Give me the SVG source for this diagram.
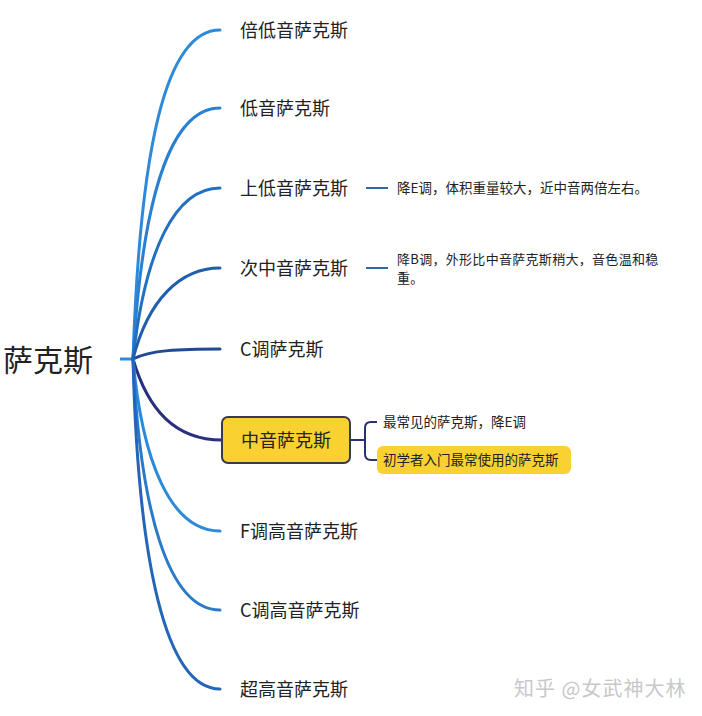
<svg xmlns="http://www.w3.org/2000/svg" width="702" height="716" viewBox="0 0 702 716">
<style>
text{font-family:"Noto Sans CJK SC","Noto Sans",sans-serif;fill:#222}
.lbl{font-size:18px;dominant-baseline:central}
.note{font-size:13.5px;dominant-baseline:central}
.note2{font-size:13px;letter-spacing:0.3px;dominant-baseline:central}
.br{fill:none;stroke-width:3;stroke-linecap:round}
</style>
<rect width="702" height="716" fill="#fff"/>
<g id="connectors">
<line x1="120" y1="359" x2="133" y2="359" stroke="#2d8ad8" stroke-width="3"/>
<path class="br" stroke="#2d8ad8" d="M133,359 C140,150 165,30 220,30"/>
<path class="br" stroke="#2a80d0" d="M133,359 C142,200 170,108 220,108"/>
<path class="br" stroke="#2470c0" d="M133,359 C145,250 175,188 220,188"/>
<path class="br" stroke="#1f5fae" d="M133,359 C148,300 180,268 220,268"/>
<path class="br" stroke="#1f4a96" d="M133,359 C150,350 180,349 220,349"/>
<path class="br" stroke="#2a2f7e" d="M133,359 C148,410 175,440 222,440"/>
<path class="br" stroke="#2d8ad8" d="M133,359 C142,460 170,531 220,531"/>
<path class="br" stroke="#2a7ac8" d="M133,359 C140,510 168,610 220,610"/>
<path class="br" stroke="#2365b8" d="M133,359 C138,560 165,689 220,689"/>
<line x1="366" y1="188" x2="388" y2="188" stroke="#2a6aa8" stroke-width="2"/>
<line x1="366" y1="268" x2="388" y2="268" stroke="#2a6aa8" stroke-width="2"/>
<path fill="none" stroke="#2a3070" stroke-width="2" d="M350,440 H365 M377,422 H371 Q365,422 365,428 V454 Q365,460 371,460 H377"/>
</g>
<g id="root"><text x="3" y="358" style="font-size:30px;dominant-baseline:central">萨克斯</text></g>
<g id="n1"><text class="lbl" x="240" y="29">倍低音萨克斯</text></g>
<g id="n2"><text class="lbl" x="240" y="107">低音萨克斯</text></g>
<g id="n3"><text class="lbl" x="240" y="187">上低音萨克斯</text></g>
<g id="n3a"><text class="note" x="397" y="187">降E调，体积重量较大，近中音两倍左右。</text></g>
<g id="n4"><text class="lbl" x="240" y="267">次中音萨克斯</text></g>
<g id="n4a"><text class="note2" x="397" y="258">降B调，外形比中音萨克斯稍大，音色温和稳</text><text class="note2" x="397" y="277">重。</text></g>
<g id="n5"><text class="lbl" x="240" y="348">C调萨克斯</text></g>
<g id="n6"><rect x="222" y="417" width="128" height="46" rx="6" fill="#f9d232" stroke="#3a3a4a" stroke-width="2"/><text class="lbl" x="286" y="439" text-anchor="middle">中音萨克斯</text></g>
<g id="n6a"><text class="note" x="383" y="421">最常见的萨克斯，降E调</text></g>
<g id="n6b"><rect x="377" y="446" width="194" height="28" rx="6" fill="#f9d232"/><text class="note" x="383" y="459">初学者入门最常使用的萨克斯</text></g>
<g id="n7"><text class="lbl" x="240" y="530">F调高音萨克斯</text></g>
<g id="n8"><text class="lbl" x="240" y="609">C调高音萨克斯</text></g>
<g id="n9"><text class="lbl" x="240" y="688">超高音萨克斯</text></g>
<text x="514" y="687" style="font-size:20px;letter-spacing:1px;dominant-baseline:central;fill:#c8c8c8">知乎 @女武神大林</text>
</svg>
